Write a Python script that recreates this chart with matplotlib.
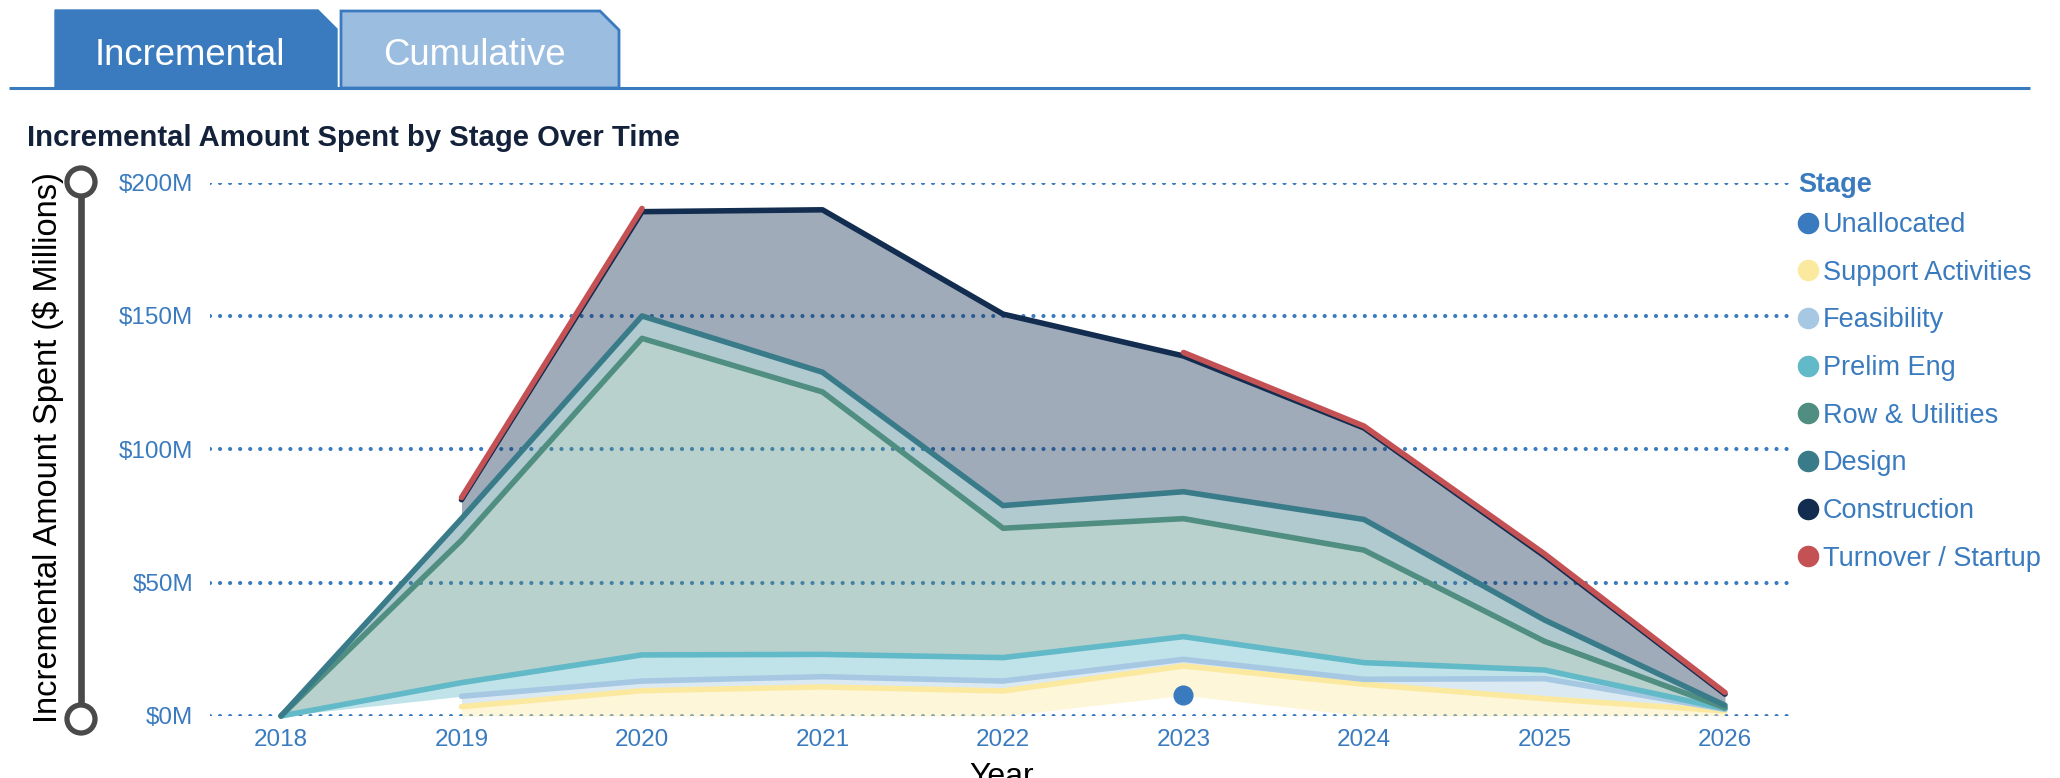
import numpy as np
import matplotlib
matplotlib.use("Agg")
import matplotlib.pyplot as plt
from matplotlib.patches import Polygon, Circle
from matplotlib.lines import Line2D

plt.rcParams['font.family'] = ['Liberation Sans', 'DejaVu Sans']

# data ($ millions per year, NaN = stage not active that year)
years = [2018, 2019, 2020, 2021, 2022, 2023, 2024, 2025, 2026]
stages = ["Unallocated", "Support Activities", "Feasibility", "Prelim Eng",
          "Row & Utilities", "Design", "Construction", "Turnover / Startup"]
unallocated = [np.nan, np.nan, np.nan, np.nan, np.nan, 7.8, np.nan, np.nan, np.nan]
support = [np.nan, 3.5, 9.5, 10.9, 9.4, 10.95, 11.9, 6.5, 1.9]
feasibility = [np.nan, 3.9, 3.6, 3.85, 3.7, 2.5, 1.85, 7.5, 0.6]
prelim_eng = [0, 5.1, 9.8, 8.35, 8.8, 8.5, 6.25, 3.25, 0.25]
row_utilities = [0, 53.4, 118.7, 98.4, 48.5, 44.25, 42.2, 10.75, 0.35]
design = [0, 8.1, 8.4, 7.4, 8.5, 10.1, 11.5, 8.0, 0.9]
construction = [np.nan, 7.1, 39.1, 60.9, 71.8, 50.9, 34.3, 24.0, 4.2]
turnover = [np.nan, 0.8, 1.2, np.nan, np.nan, 1.3, 0.7, 0.8, 0.6]

series = [unallocated, support, feasibility, prelim_eng, row_utilities,
          design, construction, turnover]
colors = ["#3a7bbf", "#fce9a0", "#a6c8e3", "#62b9c8", "#4f8e80",
          "#3a7b8a", "#122d50", "#c45255"]
yticks = [0, 50, 100, 150, 200]
ytick_labels = [r"\$0M", r"\$50M", r"\$100M", r"\$150M", r"\$200M"]

blue = "#3a7bbf"
W, H = 2060, 778
fig = plt.figure(figsize=(W / 100, H / 100), dpi=100)

# background layer in pixel coordinates for the tabs / slider / titles
bg = fig.add_axes([0, 0, 1, 1])
bg.set_xlim(0, W)
bg.set_ylim(H, 0)
bg.axis("off")

bg.add_patch(Polygon([(55, 88), (55, 10), (318, 10), (337, 29), (337, 88)],
                     closed=True, facecolor=blue, edgecolor=blue, lw=1))
bg.add_patch(Polygon([(341, 88), (341, 11), (600, 11), (619, 30), (619, 88)],
                     closed=True, facecolor="#9bbde0", edgecolor=blue, lw=2))
bg.plot([9, 2030], [88, 88], color=blue, lw=2.2, solid_capstyle="butt")
bg.text(190, 55, "Incremental", color="white", fontsize=26.3, ha="center", va="center")
bg.text(474, 55, "Cumulative", color="white", fontsize=26.3, ha="center", va="center")
bg.text(27, 138, "Incremental Amount Spent by Stage Over Time", color="#13223a",
        fontsize=21.1, fontweight="bold", ha="left", va="center")

# slider on the left
bg.plot([81, 81], [182, 719], color="#4a4a4a", lw=4.8, solid_capstyle="butt")
for cy in (182, 719):
    bg.add_patch(Circle((81, cy), 14, facecolor="white", edgecolor="#4a4a4a",
                        lw=3.8, zorder=4))
bg.text(48, 448, r"Incremental Amount Spent (\$ Millions)", rotation=90,
        fontsize=23.5, color="black", ha="center", va="center")

# legend title
bg.text(1798, 185, "Stage", color=blue, fontsize=19.5, fontweight="bold",
        ha="left", va="center")

# main chart
left, right = 210 / W, 1793 / W
bottom, top = (H - 716) / H, (H - 182.6) / H
ax = fig.add_axes([left, bottom, right - left, top - bottom])
ax.set_facecolor("none")

x = np.array(years, dtype=float)
base = np.zeros(len(years))
for name, vals, c in zip(stages, series, colors):
    v = np.array(vals, dtype=float)
    mask = ~np.isnan(v)
    upper = base + np.nan_to_num(v)
    if mask.sum() == 1:
        ax.plot(x[mask], upper[mask], "o", color=c, ms=13.5, zorder=5, clip_on=False)
    else:
        ax.fill_between(x, base, upper, where=mask, color=c, alpha=0.4,
                        lw=0, zorder=1)
        ax.plot(x, np.where(mask, upper, np.nan), color=c, lw=4,
                solid_capstyle="round", solid_joinstyle="round", zorder=3,
                clip_on=False)
    base = upper

ax.set_xlim(2018 - 71 / 180.5, 2026 + 68 / 180.5)
ax.set_ylim(0, 200)
ax.set_xticks(years)
ax.set_xticklabels([str(y) for y in years])
ax.set_yticks(yticks)
ax.set_yticklabels(ytick_labels)
ax.tick_params(axis="both", length=0, labelsize=17.5, labelcolor=blue)
ax.tick_params(axis="y", pad=12)
ax.tick_params(axis="x", pad=9)
ax.set_axisbelow(True)
ax.grid(axis="y", color=blue, linestyle=(0, (0.01, 2.4)), linewidth=3,
        dash_capstyle="round")
ax.grid(axis="x", visible=False)
for s in ax.spines.values():
    s.set_visible(False)
ax.set_xlabel("Year", fontsize=23, color="black", labelpad=8)

handles = [Line2D([], [], marker="o", ls="none", color=c, ms=14.5) for c in colors]
leg = fig.legend(handles, stages, loc="upper left",
                 bbox_to_anchor=(1797 / W, (H - 212) / H), frameon=False,
                 fontsize=19.5, labelcolor=blue,
                 borderpad=0, borderaxespad=0,
                 handlelength=0.8, handletextpad=0.15, labelspacing=0.8)

fig.savefig("out.png", dpi=100)
